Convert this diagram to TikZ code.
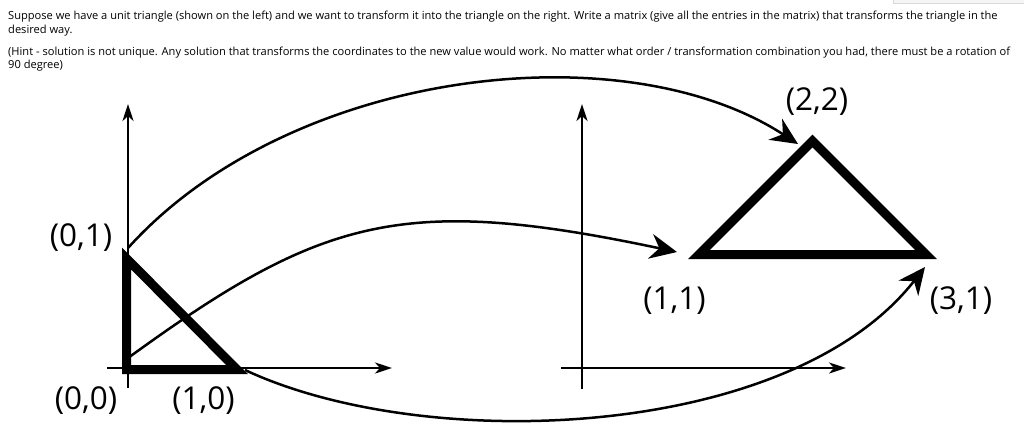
\documentclass[tikz,border=0pt]{standalone}
\usepackage{fontspec}
\setmainfont{Open Sans}
\newfontfamily\labelfont{Open Sans}
\usetikzlibrary{arrows.meta}
\begin{document}
\begin{tikzpicture}[x=1pt,y=-1pt,
  axis/.style={line width=2.5pt,-{Stealth[length=17pt,width=11pt,inset=5pt]}},
  tri/.style={line width=9pt,line join=miter},
  map/.style={line width=2.5pt,-{Stealth[length=27pt,width=25pt,inset=9pt]}},
  coord/.style={font=\labelfont\fontsize{31.5}{33}\selectfont,inner sep=0pt},
  prose/.style={font=\fontsize{11.1}{13}\selectfont,anchor=base west,inner sep=0pt}]
\useasboundingbox (0,0) rectangle (1024,439);
% faint UI fragment top right
\draw[gray!30,line width=0.8pt,fill=gray!8] (893,-2) rectangle (1026,3);
% question text
\node[prose] (l1) at (8,19.5) {Suppose we have a unit triangle (shown on the left) and we want to transform it into the triangle on the right. Write a matrix (give all the entries in the matrix) that transforms the triangle in the};
\node[prose] (l2) at (8,33) {desired way.};
\node[prose] (l3) at (8,55) {(Hint - solution is not unique. Any solution that transforms the coordinates to the new value would work. No matter what order / transformation combination you had, there must be a rotation of};
\node[prose] (l4) at (8,68.5) {90 degree)};
% axes
\coordinate (ly0) at (128,388); \coordinate (ly1) at (128,104);
\coordinate (lx0) at (107,368); \coordinate (lx1) at (392,368);
\coordinate (ry0) at (582,389); \coordinate (ry1) at (582,104);
\coordinate (rx0) at (561,368); \coordinate (rx1) at (846,368);
\draw[axis] (ly0) -- (ly1);
\draw[axis] (lx0) -- (lx1);
\draw[axis] (ry0) -- (ry1);
\draw[axis] (rx0) -- (rx1);
% triangles
\coordinate (A) at (126.5,369.5); \coordinate (B) at (237,369.5); \coordinate (C) at (126.5,258.5);
\coordinate (D) at (699,254.5); \coordinate (E) at (926,254.5); \coordinate (F) at (812.5,141);
\draw[tri] (A) -- (B) -- (C) -- cycle;
\draw[tri] (D) -- (E) -- (F) -- cycle;
% mapping arrows
\coordinate (s1) at (128,248); \coordinate (t1) at (798,144);
\coordinate (s2) at (128,358); \coordinate (t2) at (677,252);
\coordinate (s3) at (245,370); \coordinate (t3) at (925,267);
\draw[map] (s1) .. controls (288.6,69.7) and (621.8,29.6) .. (t1);
\draw[map] (s2) .. controls (322,217) and (403,194) .. (t2);
\draw[map] (s3) .. controls (426,454.6) and (789.5,440.4) .. (t3);
% labels
\node[coord] (p01) at (81,238) {(0,1)};
\node[coord] (p00) at (86,401) {(0,0)};
\node[coord] (p10) at (203.5,401) {(1,0)};
\node[coord] (p22) at (817,102) {(2,2)};
\node[coord] (p11) at (674.5,301) {(1,1)};
\node[coord] (p31) at (961,301) {(3,1)};
\end{tikzpicture}
\end{document}
